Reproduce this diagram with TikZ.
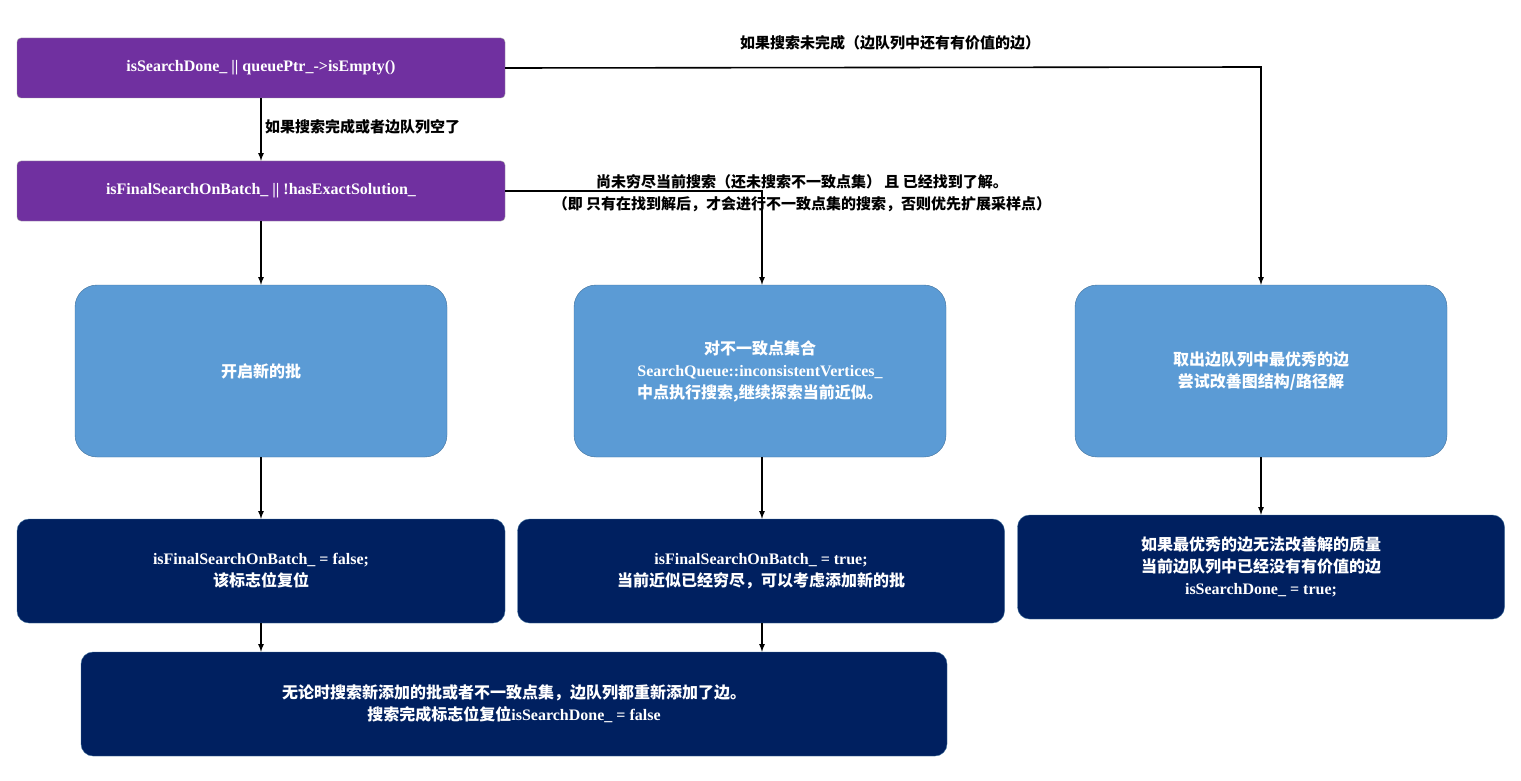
\documentclass[tikz,border=0pt]{standalone}
\usepackage{fontspec}
\setmainfont{Liberation Serif}
\newfontfamily\cjk{Noto Sans CJK SC}
\begin{document}
\begin{tikzpicture}[x=1pt,y=-1pt,
  every node/.style={font=\fontsize{16}{22}\selectfont\bfseries, align=center},
  pbox/.style={draw=black!40, fill={rgb,255:red,112;green,48;blue,160}, text=white, rounded corners=4pt, minimum width=488pt, minimum height=60pt},
  bbox/.style={draw={rgb,255:red,65;green,113;blue,156}, fill={rgb,255:red,91;green,155;blue,213}, text=white, rounded corners=22pt, minimum width=372pt, minimum height=172pt},
  nbox/.style={draw={rgb,255:red,65;green,113;blue,156}, fill={rgb,255:red,0;green,32;blue,96}, text=white, rounded corners=12pt, minimum height=104pt},
  lab/.style={font=\fontsize{15}{22}\selectfont\bfseries\cjk, text=black},
  arr/.style={draw, line width=1.6pt, -latex}]
\useasboundingbox (0,0) rectangle (1521,781);
\node[pbox] (A) at (261,68) {isSearchDone\_ || queuePtr\_->isEmpty()};
\node[pbox] (B) at (261,191) {isFinalSearchOnBatch\_ || !hasExactSolution\_};
\node[bbox] (C) at (261,371) {{\cjk 开启新的批}};
\node[bbox] (D) at (760,371) {{\cjk 对不一致点集合}\\SearchQueue::inconsistentVertices\_\\{\cjk 中点执行搜索,继续探索当前近似。}};
\node[bbox] (E) at (1261,371) {{\cjk 取出边队列中最优秀的边}\\{\cjk 尝试改善图结构/路径解}};
\node[nbox, minimum width=488pt] (F) at (261,571) {isFinalSearchOnBatch\_ = false;\\{\cjk 该标志位复位}};
\node[nbox, minimum width=487pt] (G) at (761,571) {isFinalSearchOnBatch\_ = true;\\{\cjk 当前近似已经穷尽，可以考虑添加新的批}};
\node[nbox, minimum width=487pt] (H) at (1261,567) {{\cjk 如果最优秀的边无法改善解的质量}\\{\cjk 当前边队列中已经没有有价值的边}\\isSearchDone\_ = true;};
\node[nbox, minimum width=866pt] (I) at (514,704) {{\cjk 无论时搜索新添加的批或者不一致点集，边队列都重新添加了边。}\\{\cjk 搜索完成标志位复位}isSearchDone\_ = false};
\coordinate (c1) at (1261,67);
\coordinate (c2) at (762,191);
\draw[arr] (A.south) -- node[lab, right, pos=0.45] {如果搜索完成或者边队列空了} (B.north);
\draw[arr] (A.east) -- (c1) -- (E.north);
\node[lab] (L1) at (890,43) {如果搜索未完成（边队列中还有有价值的边）};
\draw[arr] (B.east) -- (c2) -- (D.north -| c2);
\node[lab] (L2) at (802,193) {尚未穷尽当前搜索（还未搜索不一致点集）\ 且 已经找到了解。\\（即 只有在找到解后，才会进行不一致点集的搜索，否则优先扩展采样点）};
\draw[arr] (B.south) -- (C.north);
\draw[arr] (C.south) -- (F.north);
\draw[arr] (D.south -| c2) -- (G.north -| c2);
\draw[arr] (E.south) -- (H.north);
\draw[arr] (F.south) -- (I.north -| F.south);
\draw[arr] (G.south -| c2) -- (I.north -| c2);
\end{tikzpicture}
\end{document}
